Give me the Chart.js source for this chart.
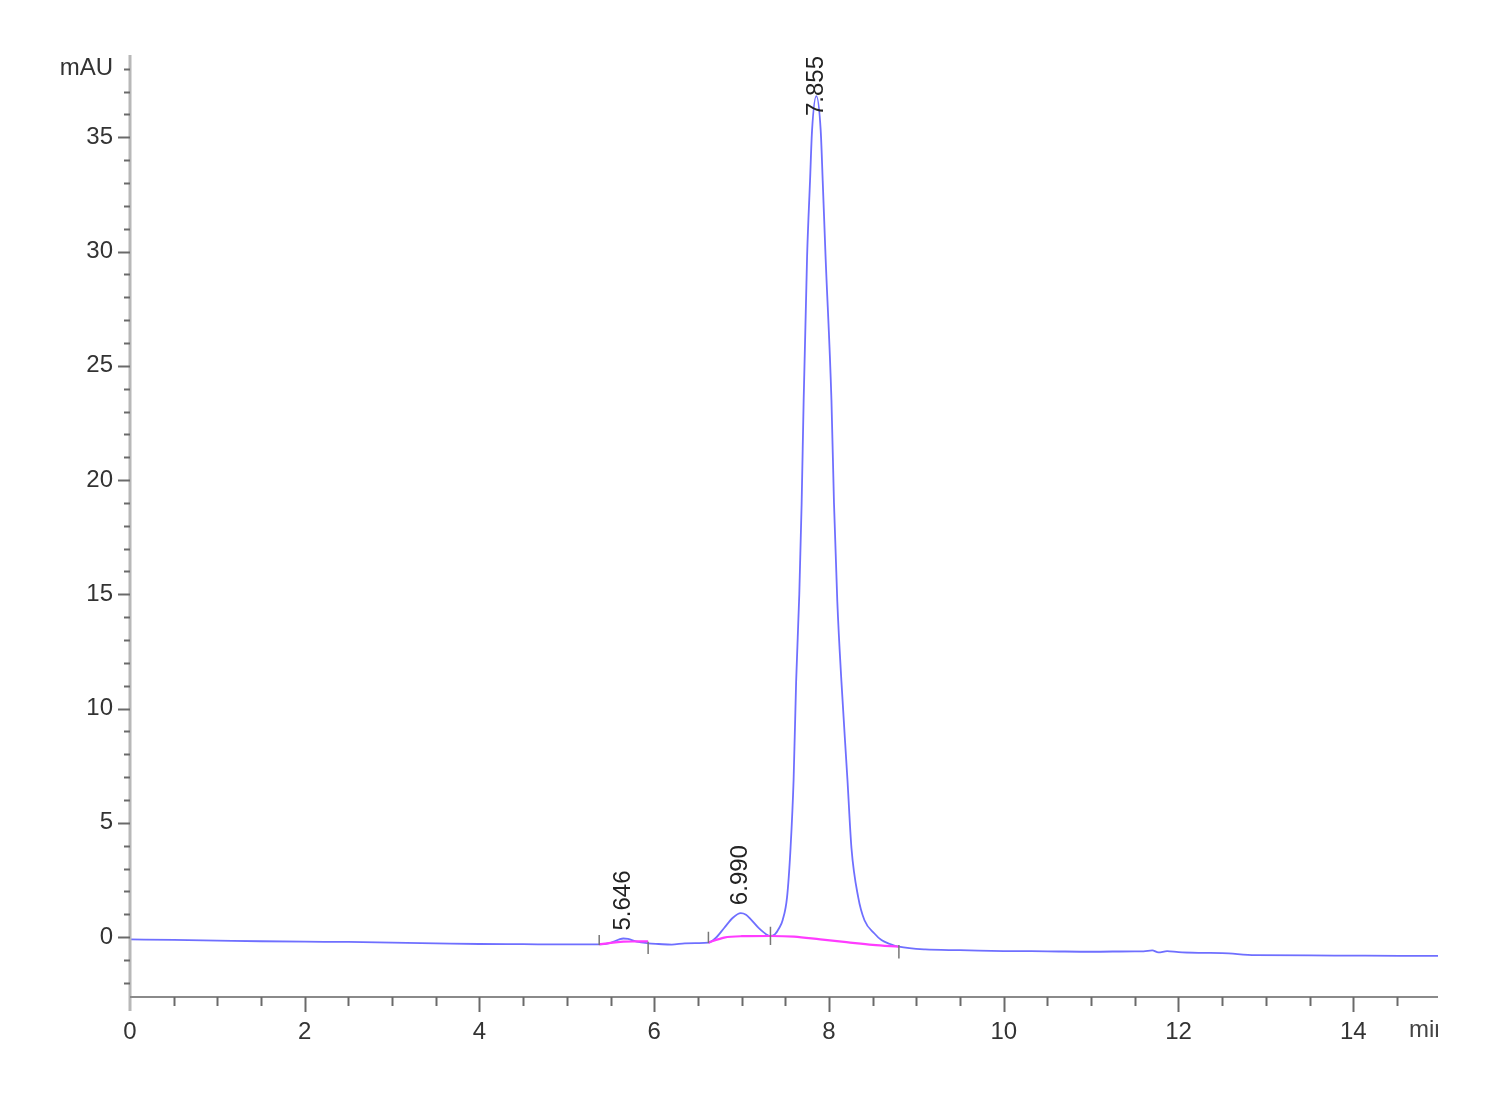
<!DOCTYPE html>
<html>
<head>
<meta charset="utf-8">
<script src="https://cdn.jsdelivr.net/npm/chart.js@4/dist/chart.umd.min.js"></script>
<style>
    body { margin: 0; background: #fff; }
    #wrap { width: 1500px; height: 1100px; }
</style>
</head>
<body>
<div id="wrap"><canvas id="chromatogram" width="1500" height="1100"></canvas></div>
<script>
// Signal trace (min, mAU)
const times = [0, 0.5, 1.0, 1.5, 2.0, 2.5, 3.0, 3.5, 4.0, 4.5, 5.0, 5.37, 5.5, 5.6, 5.646, 5.7, 5.8, 5.93,
    6.05, 6.2, 6.35, 6.5, 6.62, 6.7, 6.8, 6.9, 6.99, 7.05, 7.1, 7.2, 7.3, 7.33, 7.38, 7.43, 7.47, 7.52,
    7.56, 7.595, 7.624, 7.66, 7.687, 7.71, 7.749, 7.783, 7.806, 7.855, 7.905, 7.928, 7.961, 8.028, 8.057,
    8.095, 8.142, 8.211, 8.257, 8.334, 8.406, 8.52, 8.6, 8.7, 8.8, 9.1, 9.5, 10.0, 10.5, 11.0, 11.5, 11.6,
    11.7, 11.77, 11.87, 12.0, 12.27, 12.5, 12.88, 13.5, 14.0, 14.53, 14.97];
const signal = [-0.10, -0.12, -0.15, -0.18, -0.20, -0.21, -0.24, -0.27, -0.30, -0.31, -0.32, -0.32, -0.25, -0.10, -0.06, -0.08, -0.20, -0.27,
    -0.30, -0.33, -0.27, -0.26, -0.24, -0.05, 0.40, 0.85, 1.05, 0.98, 0.80, 0.38, 0.08, 0.05, 0.12, 0.40, 0.75, 1.75,
    3.9, 6.9, 11.2, 15.0, 19.0, 23.5, 29.75, 33.1, 35.3, 36.8, 35.3, 33.1, 29.75, 23.5, 19.0,
    14.7, 11.2, 6.9, 3.9, 1.75, 0.74, 0.16, -0.13, -0.30, -0.42, -0.54, -0.57, -0.61, -0.62, -0.64, -0.62, -0.62,
    -0.58, -0.67, -0.61, -0.66, -0.69, -0.70, -0.79, -0.80, -0.81, -0.82, -0.82];

// Integration baselines
const base1Times = [5.37, 5.5, 5.646, 5.8, 5.93];
const base1Values = [-0.32, -0.25, -0.20, -0.19, -0.18];
const base2Times = [6.62, 6.8, 7.0, 7.33, 7.6, 7.9, 8.2, 8.5, 8.8];
const base2Values = [-0.24, -0.02, 0.04, 0.05, 0.02, -0.10, -0.22, -0.34, -0.42];

// Peak start/end markers
const dropTimes = [5.37, 5.93, 6.62, 7.33, 8.8];
const dropTop = [0.09, -0.20, 0.23, 0.45, -0.35];
const dropBottom = [-0.35, -0.74, -0.26, -0.35, -0.93];

// Peak retention time labels
const peakTimes = [5.646, 6.990, 7.855];
const peakHeights = [-0.06, 1.05, 36.8];
const peakLabels = ['5.646', '6.990', '7.855'];

// Axis ticks
const xMajorTicks = [0, 2, 4, 6, 8, 10, 12, 14];
const yMajorTicks = [0, 5, 10, 15, 20, 25, 30, 35];
const xUnit = 'min';
const yUnit = 'mAU';

const tickFont = { family: "'Liberation Sans Narrow', 'Liberation Sans', Arial, sans-serif", size: 24 };

function toPoints(xs, ys) {
    return xs.map((x, i) => ({ x: x, y: ys[i] }));
}

function dropPoints() {
    const pts = [];
    dropTimes.forEach((t, i) => {
        pts.push({ x: t, y: dropTop[i] });
        pts.push({ x: t, y: dropBottom[i] });
        pts.push({ x: t, y: null });
    });
    return pts;
}

const axesPlugin = {
    id: 'chromAxes',
    afterDraw(chart) {
        const ctx = chart.ctx;
        const area = chart.chartArea;
        const xs = chart.scales.x;
        const ys = chart.scales.y;
        ctx.save();

        // y axis line
        ctx.strokeStyle = '#b8b8b8';
        ctx.lineWidth = 3;
        ctx.beginPath();
        ctx.moveTo(area.left, area.top);
        ctx.lineTo(area.left, area.bottom + 14);
        ctx.stroke();

        // x axis line
        ctx.strokeStyle = '#8a8a8a';
        ctx.lineWidth = 2;
        ctx.beginPath();
        ctx.moveTo(area.left, area.bottom);
        ctx.lineTo(area.right, area.bottom);
        ctx.stroke();

        // y ticks every 1 mAU
        ctx.strokeStyle = '#6a6a6a';
        ctx.lineWidth = 2;
        for (let v = -2; v <= 38; v++) {
            const py = Math.round(ys.getPixelForValue(v)) + 0.5;
            const len = yMajorTicks.includes(v) ? 12 : 6;
            ctx.beginPath();
            ctx.moveTo(area.left - len, py);
            ctx.lineTo(area.left, py);
            ctx.stroke();
        }

        // x ticks every 0.5 min
        for (let v = 0.5; v <= 14.5; v += 0.5) {
            const px = Math.round(xs.getPixelForValue(v)) + 0.5;
            const len = xMajorTicks.includes(v) ? 15 : 9;
            ctx.beginPath();
            ctx.moveTo(px, area.bottom);
            ctx.lineTo(px, area.bottom + len);
            ctx.stroke();
        }

        // x unit, clipped at the axis end like the instrument print
        ctx.save();
        ctx.beginPath();
        ctx.rect(0, 0, area.right, chart.height);
        ctx.clip();
        ctx.fillStyle = '#444';
        ctx.font = `${tickFont.size}px ${tickFont.family}`;
        ctx.textAlign = 'left';
        ctx.textBaseline = 'middle';
        ctx.fillText(xUnit, area.right - 29, area.bottom + 33);
        ctx.restore();

        // peak labels, rotated
        ctx.fillStyle = '#222';
        ctx.font = "24px 'Liberation Sans', Arial, sans-serif";
        ctx.textAlign = 'left';
        ctx.textBaseline = 'middle';
        peakLabels.forEach((label, i) => {
            const px = xs.getPixelForValue(peakTimes[i]);
            const w = ctx.measureText(label).width;
            const py = Math.max(ys.getPixelForValue(peakHeights[i]) - 8, area.top + w + 1);
            ctx.save();
            ctx.translate(px, py);
            ctx.rotate(-Math.PI / 2);
            ctx.fillText(label, 0, 0);
            ctx.restore();
        });

        ctx.restore();
    }
};

new Chart(document.getElementById('chromatogram').getContext('2d'), {
    type: 'line',
    data: {
        datasets: [
            {
                data: dropPoints(),
                borderColor: '#777',
                borderWidth: 1.5,
                pointRadius: 0,
                spanGaps: false
            },
            {
                data: toPoints(base1Times, base1Values),
                borderColor: '#ff3cff',
                borderWidth: 2.2,
                pointRadius: 0,
                cubicInterpolationMode: 'monotone'
            },
            {
                data: toPoints(base2Times, base2Values),
                borderColor: '#ff3cff',
                borderWidth: 2.2,
                pointRadius: 0,
                cubicInterpolationMode: 'monotone'
            },
            {
                data: toPoints(times, signal),
                borderColor: 'rgba(95,95,255,0.9)',
                borderWidth: 1.8,
                pointRadius: 0,
                cubicInterpolationMode: 'monotone'
            }
        ]
    },
    options: {
        responsive: false,
        animation: false,
        devicePixelRatio: 1,
        layout: { padding: { left: 0, top: 55, right: 62, bottom: 0 } },
        plugins: {
            legend: { display: false },
            tooltip: { enabled: false }
        },
        scales: {
            x: {
                type: 'linear',
                min: 0,
                max: 14.97,
                grid: { display: false, drawTicks: false },
                border: { display: false },
                afterFit: (scale) => { scale.height = 103; },
                afterBuildTicks: (scale) => { scale.ticks = xMajorTicks.map(v => ({ value: v })); },
                ticks: {
                    autoSkip: false,
                    maxRotation: 0,
                    padding: 21,
                    color: '#333',
                    font: tickFont
                }
            },
            y: {
                type: 'linear',
                min: -2.62,
                max: 38.6,
                grid: { display: false, drawTicks: false },
                border: { display: false },
                afterFit: (scale) => { scale.width = 130; },
                afterBuildTicks: (scale) => {
                    scale.ticks = yMajorTicks.concat([38]).map(v => ({ value: v }));
                },
                ticks: {
                    autoSkip: false,
                    padding: 17,
                    color: '#333',
                    font: tickFont,
                    callback: (v) => (v === 38 ? yUnit : String(v))
                }
            }
        }
    },
    plugins: [axesPlugin]
});
</script>
</body>
</html>
